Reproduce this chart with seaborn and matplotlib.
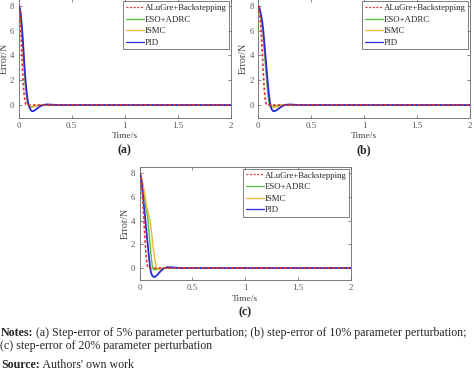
import numpy as np
import pandas as pd
import seaborn as sns
import matplotlib.pyplot as plt

# time samples (s)
t = [0, 0.01, 0.02, 0.03, 0.04, 0.05, 0.06, 0.07, 0.08, 0.09, 0.10, 0.11,
     0.12, 0.13, 0.14, 0.16, 0.18, 0.20, 0.23, 0.26, 0.30, 0.35, 0.40, 2.0]

methods = ['ALuGre+Backstepping', 'ESO+ADRC', 'ISMC', 'PID']

# (a) 5% parameter perturbation
red_a = [8.0, 7.6, 6.4, 4.2, 2.4, 1.1, 0.35, 0.05, 0, 0, 0, 0,
         0, 0, 0, 0, 0, 0, 0, 0, 0, 0, 0, 0]
green_a = [8.0, 7.8, 7.2, 6.2, 4.9, 3.5, 2.2, 1.1, 0.4, 0.0, -0.12, -0.15,
           -0.14, -0.12, -0.1, -0.06, -0.03, -0.01, 0, 0, 0, 0, 0, 0]
yellow_a = [8.0, 7.85, 7.3, 6.3, 5.0, 3.6, 2.3, 1.2, 0.5, 0.05, -0.12, -0.18,
            -0.2, -0.18, -0.14, -0.08, -0.04, -0.01, 0, 0, 0, 0, 0, 0]
blue_a = [8.0, 7.9, 7.4, 6.5, 5.4, 4.0, 2.7, 1.6, 0.8, 0.2, -0.1, -0.32,
          -0.45, -0.5, -0.48, -0.38, -0.24, -0.12, 0.0, 0.05, 0.04, 0.01, 0, 0]

# (b) 10% parameter perturbation
red_b = [8.0, 7.7, 7.0, 5.9, 4.3, 2.6, 1.2, 0.3, 0.0, 0, 0, 0,
         0, 0, 0, 0, 0, 0, 0, 0, 0, 0, 0, 0]
green_b = [8.0, 7.85, 7.5, 7.0, 6.3, 5.4, 4.3, 3.2, 2.1, 1.1, 0.35, -0.05,
           -0.12, -0.12, -0.1, -0.06, -0.03, -0.01, 0, 0, 0, 0, 0, 0]
yellow_b = [8.0, 7.9, 7.6, 7.1, 6.5, 5.7, 4.7, 3.7, 2.7, 1.8, 1.0, 0.4,
            0.0, -0.12, -0.17, -0.18, -0.14, -0.08, -0.02, 0, 0, 0, 0, 0]
blue_b = [8.0, 7.9, 7.6, 7.2, 6.7, 6.0, 5.0, 4.0, 3.0, 2.0, 1.1, 0.35,
          -0.1, -0.35, -0.47, -0.48, -0.38, -0.25, -0.08, 0.02, 0.05, 0.02, 0, 0]

# (c) 20% parameter perturbation
red_c = [8.0, 7.7, 7.0, 5.9, 4.3, 2.7, 1.3, 0.4, 0.0, 0, 0, 0,
         0, 0, 0, 0, 0, 0, 0, 0, 0, 0, 0, 0]
green_c = [8.0, 7.85, 7.5, 7.0, 6.4, 5.8, 5.1, 4.6, 4.0, 3.0, 2.0, 1.0,
           0.2, -0.1, -0.15, -0.12, -0.06, -0.02, 0, 0, 0, 0, 0, 0]
yellow_c = [8.0, 7.9, 7.6, 7.2, 6.7, 6.2, 5.6, 5.1, 4.7, 4.35, 4.0, 3.3,
            2.5, 1.7, 1.0, 0.0, -0.12, -0.1, 0.02, 0.07, 0.05, 0.01, 0, 0]
blue_c = [8.0, 7.8, 7.2, 6.3, 5.4, 4.5, 3.6, 2.7, 1.8, 0.9, 0.05, -0.4,
          -0.62, -0.72, -0.75, -0.65, -0.45, -0.25, -0.03, 0.07, 0.07, 0.03, 0, 0]

panels = [
    ('(a)', [red_a, green_a, yellow_a, blue_a]),
    ('(b)', [red_b, green_b, yellow_b, blue_b]),
    ('(c)', [red_c, green_c, yellow_c, blue_c]),
]

notes_1 = ' (a) Step-error of 5% parameter perturbation; (b) step-error of 10% parameter perturbation;'
notes_2 = '(c) step-error of 20% parameter perturbation'
source = " Authors' own work"

colors = ['#e8302a', '#52c23a', '#f2b632', '#2a2ad6']
widths = [1.2, 1.0, 1.0, 1.3]
zorders = [5, 2, 3, 4]

sns.set_style('white')
plt.rcParams['font.family'] = ['Liberation Serif', 'DejaVu Serif']

W, H = 474, 373
fig = plt.figure(figsize=(W / 100, H / 100), dpi=100)

# axes boxes in pixels: left, top, right, bottom; plus caption row
boxes = [(18.5, -0.5, 231, 117.5), (258, -0.5, 470, 117.5), (139.5, 167, 351, 280)]
tag_y = [150, 150, 312]


def px_axes(box):
    l, tp, r, b = box
    return fig.add_axes([l / W, 1 - b / H, (r - l) / W, (b - tp) / H])


for (tag, series), box, ty in zip(panels, boxes, tag_y):
    ax = px_axes(box)
    for name, vals, c, lw, z in zip(methods, series, colors, widths, zorders):
        ls = (0, (1.6, 1.3)) if name.startswith('ALuGre') else '-'
        sns.lineplot(x=t, y=vals, ax=ax, color=c, linewidth=lw, linestyle=ls,
                     label=name, zorder=z)
    ax.set_xlim(0, 2)
    ax.set_ylim(-1, 8.5)
    ax.set_xticks([0, 0.5, 1, 1.5, 2])
    ax.set_xticklabels(['0', '0.5', '1', '1.5', '2'])
    ax.set_yticks([0, 2, 4, 6, 8])
    ax.tick_params(direction='in', length=2, width=0.5, labelsize=6.3,
                   colors='#555555', pad=3, top=True, right=True,
                   bottom=True, left=True)
    for sp in ax.spines.values():
        sp.set_color('#666666')
        sp.set_linewidth(0.6)
    ax.set_xlabel('Time/s', fontsize=6.8, color='#444444', labelpad=2)
    ax.set_ylabel('Error/N', fontsize=7.2, color='#444444', labelpad=1)
    leg = ax.legend(loc='upper right', fontsize=6.3, frameon=True, fancybox=False,
                    edgecolor='#444444', handlelength=2.0, handletextpad=0.15,
                    borderpad=0.3, labelspacing=0.4, borderaxespad=0.2)
    leg.get_frame().set_linewidth(0.6)
    for line in leg.get_lines():
        line.set_linewidth(0.9)
    cx = (box[0] + box[2]) / 2
    fig.text(cx / W, 1 - ty / H, tag, ha='center', va='center',
             fontsize=8.5, fontweight='bold')

# notes beneath the figure: bold lead word followed by plain text
lead = fig.text(0.5 / W, 1 - 336 / H, 'Notes:', fontsize=8.6, va='baseline',
                fontweight='bold')
plt.annotate(notes_1, xy=(1, 0), xycoords=lead, fontsize=8.6, va='bottom',
             ha='left', annotation_clip=False)
fig.text(0.5 / W, 1 - 349 / H, notes_2, fontsize=8.6, va='baseline')
src = fig.text(1.5 / W, 1 - 368 / H, 'Source:', fontsize=8.6, va='baseline',
               fontweight='bold')
plt.annotate(source, xy=(1, 0), xycoords=src, fontsize=8.6, va='bottom',
             ha='left', annotation_clip=False)

fig.savefig('out.png', dpi=100)
